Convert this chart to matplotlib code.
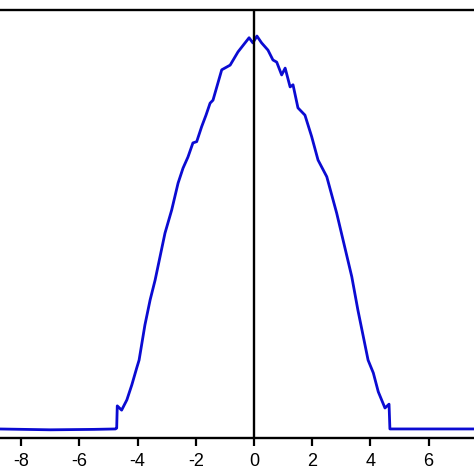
import matplotlib
matplotlib.use("Agg")
import matplotlib.pyplot as plt

plt.rcParams["font.family"] = ["Liberation Sans", "DejaVu Sans"]
plt.rcParams["axes.unicode_minus"] = False

# profile (x in axis units, y normalised to the frame height)
x_vals = [-8.8, -7.0, -5.5, -4.76, -4.72, -4.70, -4.55, -4.37, -4.20, -4.03, -3.95,
          -3.75, -3.57, -3.40, -3.06, -2.83, -2.61, -2.44, -2.27, -2.10, -1.97,
          -1.80, -1.65, -1.51, -1.41, -1.11, -0.82, -0.55, -0.17, -0.04, 0.10,
          0.26, 0.48, 0.65, 0.78, 0.95, 1.07, 1.24, 1.34, 1.51, 1.75, 1.98,
          2.20, 2.50, 2.84, 3.06, 3.36, 3.57, 3.78, 3.92, 4.10, 4.27, 4.50,
          4.64, 4.67, 5.5, 7.6]
y_vals = [0.020, 0.018, 0.019, 0.020, 0.022, 0.074, 0.064, 0.088, 0.123, 0.163, 0.181,
          0.263, 0.322, 0.368, 0.478, 0.532, 0.595, 0.630, 0.656, 0.689, 0.692,
          0.727, 0.754, 0.782, 0.789, 0.860, 0.871, 0.902, 0.935, 0.923, 0.939,
          0.923, 0.906, 0.883, 0.878, 0.848, 0.864, 0.820, 0.825, 0.771, 0.754, 0.704,
          0.649, 0.610, 0.525, 0.462, 0.376, 0.298, 0.228, 0.181, 0.151, 0.107, 0.069,
          0.078, 0.020, 0.020, 0.020]
x_ticks = [-8, -6, -4, -2, 0, 2, 4, 6]

fig = plt.figure(figsize=(4.74, 4.74), dpi=100)
ax = fig.add_axes([0.0, 0.077, 1.0, 0.902])
ax.plot(x_vals, y_vals, color="#0b0bd2", lw=2.0, solid_joinstyle="round")
ax.axvline(0, color="black", lw=1.7)

ax.set_xlim(-8.73, 7.56)
ax.set_ylim(0, 1)
ax.set_xticks(x_ticks)
ax.set_xticklabels([str(t) for t in x_ticks])
ax.set_yticks([])
ax.tick_params(axis="x", direction="out", length=6, width=1.6, pad=5.5, labelsize=13)
for side in ("left", "right"):
    ax.spines[side].set_visible(False)
for side in ("top", "bottom"):
    ax.spines[side].set_linewidth(1.7)

fig.savefig("out.png", dpi=100)
